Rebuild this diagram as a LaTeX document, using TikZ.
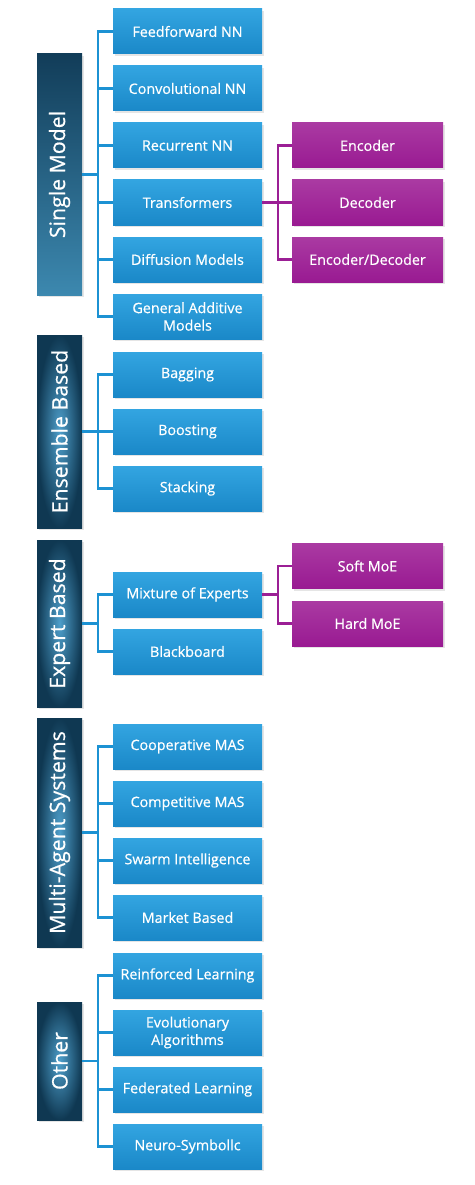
\documentclass[tikz,border=0pt]{standalone}
\usepackage{fontspec}
\usepackage{graphicx}
\setmainfont{Open Sans}
\newfontfamily\boxfont{Open Sans}[FakeBold=0.6]
\usetikzlibrary{shadows}

\definecolor{leaftop}{HTML}{33A5E1}
\definecolor{leafbot}{HTML}{1A88C8}
\definecolor{subtop}{HTML}{AA3AA2}
\definecolor{subbot}{HTML}{991A92}
\definecolor{grpin}{HTML}{4E9FCB}
\definecolor{grpout}{HTML}{0F3852}
\definecolor{grptop}{HTML}{123D59}
\definecolor{grpbot}{HTML}{3C88AF}
\definecolor{linkblue}{HTML}{1C92D3}
\definecolor{linkpurple}{HTML}{9B1F95}

\tikzset{
  leaf/.style={rectangle, minimum width=149pt, minimum height=45pt, inner sep=0pt,
    top color=leaftop, bottom color=leafbot, text=white, align=center,
    font=\boxfont\fontsize{14.3}{17.5}\selectfont,
    drop shadow={shadow xshift=1.5pt, shadow yshift=-2pt, opacity=0.2}},
  sub/.style={leaf, minimum width=151pt, top color=subtop, bottom color=subbot},
  group/.style={rectangle, minimum width=45pt, inner sep=0pt,
    inner color=grpin, outer color=grpout, text=white,
    font=\boxfont\fontsize{21.3}{25}\selectfont,
    drop shadow={shadow xshift=1.5pt, shadow yshift=-2pt, opacity=0.2}},
  link/.style={draw=linkblue, line width=2.5pt},
  sublink/.style={draw=linkpurple, line width=2.5pt},
}

\begin{document}
\begin{tikzpicture}[x=1pt, y=-1pt]
                \fill[white] (0,0) rectangle (474,1185);
                \useasboundingbox (0,0) rectangle (474,1185);
                % groups
                \node[group, minimum height=241pt, top color=grptop, bottom color=grpbot] (single) at (59.5,174.5) {\rotatebox{90}{Single Model}};
                \node[group, minimum height=193pt] (ensemble) at (59.5,431.5) {\rotatebox{90}{Ensemble Based}};
                \node[group, minimum height=167pt] (expert) at (59.5,623.5) {\rotatebox{90}{Expert Based}};
                \node[group, minimum height=229pt] (mas) at (59.5,832.5) {\rotatebox{90}{Multi-Agent Systems}};
                \node[group, minimum height=118pt] (other) at (59.5,1061) {\rotatebox{90}{Other}};
                % single model
                \node[leaf] (ffnn) at (187.5,31.5) {Feedforward NN};
                \node[leaf] (cnn) at (187.5,88.5) {Convolutional NN};
                \node[leaf] (rnn) at (187.5,145.5) {Recurrent NN};
                \node[leaf] (trf) at (187.5,202.5) {Transformers};
                \node[leaf] (diff) at (187.5,259.5) {Diffusion Models};
                \node[leaf] (gam) at (187.5,316.5) {General Additive\\Models};
                \node[sub] (enc) at (367.5,145.5) {Encoder};
                \node[sub] (dec) at (367.5,202.5) {Decoder};
                \node[sub] (encdec) at (367.5,259.5) {Encoder/Decoder};
                % ensemble
                \node[leaf] (bag) at (187.5,374.5) {Bagging};
                \node[leaf] (boost) at (187.5,431.5) {Boosting};
                \node[leaf] (stack) at (187.5,488.5) {Stacking};
                % expert
                \node[leaf] (moe) at (187.5,594.5) {Mixture of Experts};
                \node[leaf] (board) at (187.5,651.5) {Blackboard};
                \node[sub] (soft) at (367.5,566) {Soft MoE};
                \node[sub] (hard) at (367.5,623.5) {Hard MoE};
                % multi-agent
                \node[leaf] (coop) at (187.5,746.5) {Cooperative MAS};
                \node[leaf] (comp) at (187.5,803.5) {Competitive MAS};
                \node[leaf] (swarm) at (187.5,860.5) {Swarm Intelligence};
                \node[leaf] (market) at (187.5,917.5) {Market Based};
                % other
                \node[leaf] (rl) at (187.5,975.5) {Reinforced Learning};
                \node[leaf] (evo) at (187.5,1032.5) {Evolutionary\\Algorithms};
                \node[leaf] (fed) at (187.5,1089.5) {Federated Learning};
                \node[leaf] (neuro) at (187.5,1146.5) {Neuro-Symbollc};
                % links
                \foreach \c in {ffnn,cnn,rnn,trf,diff,gam}
                    \draw[link] (single.east) -- ++(16,0) |- (\c.west);
                \foreach \c in {bag,boost,stack}
                    \draw[link] (ensemble.east) -- ++(16,0) |- (\c.west);
                \foreach \c in {moe,board}
                    \draw[link] (expert.east) -- ++(16,0) |- (\c.west);
                \foreach \c in {coop,comp,swarm,market}
                    \draw[link] (mas.east) -- ++(16,0) |- (\c.west);
                \foreach \c in {rl,evo,fed,neuro}
                    \draw[link] (other.east) -- ++(16,0) |- (\c.west);
                \foreach \c in {enc,dec,encdec}
                    \draw[sublink] (trf.east) -- ++(16,0) |- (\c.west);
                \foreach \c in {soft,hard}
                    \draw[sublink] (moe.east) -- ++(16,0) |- (\c.west);
                \end{tikzpicture}
\end{document}
